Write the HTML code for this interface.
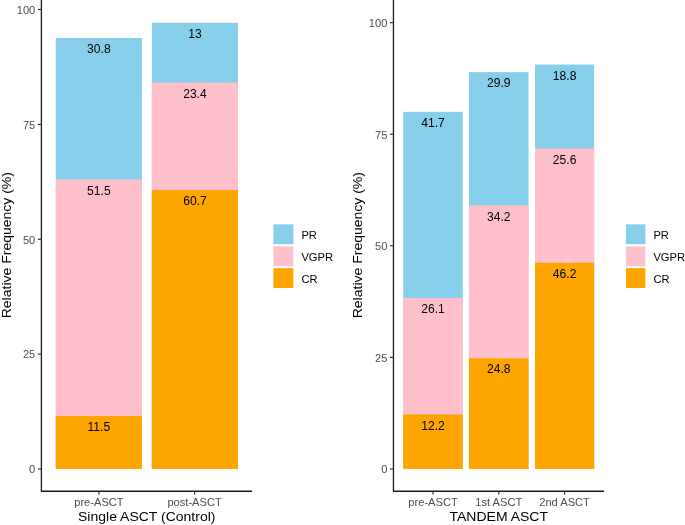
<!DOCTYPE html>
<html><head><meta charset="utf-8"><title>Response rates</title>
<style>
html,body{margin:0;padding:0;background:#fff;}
body{width:685px;height:525px;overflow:hidden;}
svg{display:block;}
text{font-family:"Liberation Sans",Arial,Helvetica,sans-serif;}
.lab{font-size:12.1px;fill:#000;}
.ax{font-size:11.0px;fill:#4d4d4d;}
.lg{font-size:10.8px;fill:#000;}
.tt{font-size:13.6px;fill:#000;}
</style></head><body>
<svg width="685" height="525" viewBox="0 0 685 525">
<rect width="685" height="525" fill="#fff"/>
<rect x="55.80" y="37.99" width="86.10" height="430.96" fill="#87CEEB"/>
<rect x="55.80" y="179.50" width="86.10" height="289.45" fill="#FFC0CB"/>
<rect x="55.80" y="416.11" width="86.10" height="52.84" fill="#FFA500"/>
<text class="lab" transform="translate(98.85,431.26)" text-anchor="middle">11.5</text>
<text class="lab" transform="translate(98.85,194.65)" text-anchor="middle">51.5</text>
<text class="lab" transform="translate(98.85,53.14)" text-anchor="middle">30.8</text>
<rect x="151.85" y="22.82" width="86.15" height="446.13" fill="#87CEEB"/>
<rect x="151.85" y="82.55" width="86.15" height="386.40" fill="#FFC0CB"/>
<rect x="151.85" y="190.06" width="86.15" height="278.89" fill="#FFA500"/>
<text class="lab" transform="translate(194.93,205.21)" text-anchor="middle">60.7</text>
<text class="lab" transform="translate(194.93,97.70)" text-anchor="middle">23.4</text>
<text class="lab" transform="translate(194.93,37.97)" text-anchor="middle">13</text>
<path d="M41.40 0V491.25H252.10" fill="none" stroke="#1a1a1a" stroke-width="1.3" stroke-linejoin="round"/>
<line x1="37.90" y1="468.95" x2="41.50" y2="468.95" stroke="#333" stroke-width="1.2"/>
<text class="ax" transform="translate(35.30,473.30) scale(1.012,1)" text-anchor="end">0</text>
<line x1="37.90" y1="354.09" x2="41.50" y2="354.09" stroke="#333" stroke-width="1.2"/>
<text class="ax" transform="translate(35.30,358.44) scale(1.012,1)" text-anchor="end">25</text>
<line x1="37.90" y1="239.22" x2="41.50" y2="239.22" stroke="#333" stroke-width="1.2"/>
<text class="ax" transform="translate(35.30,243.57) scale(1.012,1)" text-anchor="end">50</text>
<line x1="37.90" y1="124.36" x2="41.50" y2="124.36" stroke="#333" stroke-width="1.2"/>
<text class="ax" transform="translate(35.30,128.71) scale(1.012,1)" text-anchor="end">75</text>
<line x1="37.90" y1="9.50" x2="41.50" y2="9.50" stroke="#333" stroke-width="1.2"/>
<text class="ax" transform="translate(35.30,13.85) scale(1.012,1)" text-anchor="end">100</text>
<line x1="98.91" y1="491.00" x2="98.91" y2="494.60" stroke="#333" stroke-width="1.2"/>
<text class="ax" transform="translate(98.91,506.00) scale(1.012,1)" text-anchor="middle">pre-ASCT</text>
<line x1="194.59" y1="491.00" x2="194.59" y2="494.60" stroke="#333" stroke-width="1.2"/>
<text class="ax" transform="translate(194.59,506.00) scale(1.012,1)" text-anchor="middle">post-ASCT</text>
<text class="tt" transform="translate(146.75,521.35) scale(1.03,1)" text-anchor="middle">Single ASCT (Control)</text>
<text class="tt" transform="translate(10.60,245.15) rotate(-90) scale(1.03,1)" text-anchor="middle">Relative Frequency (%)</text>
<rect x="273.40" y="224.35" width="20.0" height="19.85" fill="#87CEEB"/>
<text class="lg" transform="translate(301.40,238.80) scale(1.035,1)">PR</text>
<rect x="273.40" y="246.25" width="20.0" height="19.85" fill="#FFC0CB"/>
<text class="lg" transform="translate(301.40,260.70) scale(1.035,1)">VGPR</text>
<rect x="273.40" y="268.15" width="20.0" height="19.85" fill="#FFA500"/>
<text class="lg" transform="translate(301.40,282.60) scale(1.035,1)">CR</text>
<rect x="403.20" y="111.85" width="59.50" height="357.10" fill="#87CEEB"/>
<rect x="403.20" y="297.99" width="59.50" height="170.96" fill="#FFC0CB"/>
<rect x="403.20" y="414.49" width="59.50" height="54.46" fill="#FFA500"/>
<text class="lab" transform="translate(432.95,429.64)" text-anchor="middle">12.2</text>
<text class="lab" transform="translate(432.95,313.14)" text-anchor="middle">26.1</text>
<text class="lab" transform="translate(432.95,127.00)" text-anchor="middle">41.7</text>
<rect x="468.95" y="72.13" width="59.55" height="396.82" fill="#87CEEB"/>
<rect x="468.95" y="205.59" width="59.55" height="263.36" fill="#FFC0CB"/>
<rect x="468.95" y="358.25" width="59.55" height="110.70" fill="#FFA500"/>
<text class="lab" transform="translate(498.73,373.40)" text-anchor="middle">24.8</text>
<text class="lab" transform="translate(498.73,220.74)" text-anchor="middle">34.2</text>
<text class="lab" transform="translate(498.73,87.28)" text-anchor="middle">29.9</text>
<rect x="535.00" y="64.54" width="59.15" height="404.41" fill="#87CEEB"/>
<rect x="535.00" y="148.46" width="59.15" height="320.49" fill="#FFC0CB"/>
<rect x="535.00" y="262.73" width="59.15" height="206.22" fill="#FFA500"/>
<text class="lab" transform="translate(564.58,277.88)" text-anchor="middle">46.2</text>
<text class="lab" transform="translate(564.58,163.61)" text-anchor="middle">25.6</text>
<text class="lab" transform="translate(564.58,79.69)" text-anchor="middle">18.8</text>
<path d="M393.45 0V491.25H604.10" fill="none" stroke="#1a1a1a" stroke-width="1.3" stroke-linejoin="round"/>
<line x1="389.95" y1="468.95" x2="393.55" y2="468.95" stroke="#333" stroke-width="1.2"/>
<text class="ax" transform="translate(387.35,473.30) scale(1.012,1)" text-anchor="end">0</text>
<line x1="389.95" y1="357.36" x2="393.55" y2="357.36" stroke="#333" stroke-width="1.2"/>
<text class="ax" transform="translate(387.35,361.71) scale(1.012,1)" text-anchor="end">25</text>
<line x1="389.95" y1="245.76" x2="393.55" y2="245.76" stroke="#333" stroke-width="1.2"/>
<text class="ax" transform="translate(387.35,250.11) scale(1.012,1)" text-anchor="end">50</text>
<line x1="389.95" y1="134.17" x2="393.55" y2="134.17" stroke="#333" stroke-width="1.2"/>
<text class="ax" transform="translate(387.35,138.52) scale(1.012,1)" text-anchor="end">75</text>
<line x1="389.95" y1="22.58" x2="393.55" y2="22.58" stroke="#333" stroke-width="1.2"/>
<text class="ax" transform="translate(387.35,26.93) scale(1.012,1)" text-anchor="end">100</text>
<line x1="433.01" y1="491.00" x2="433.01" y2="494.60" stroke="#333" stroke-width="1.2"/>
<text class="ax" transform="translate(433.01,506.00) scale(1.012,1)" text-anchor="middle">pre-ASCT</text>
<line x1="498.77" y1="491.00" x2="498.77" y2="494.60" stroke="#333" stroke-width="1.2"/>
<text class="ax" transform="translate(498.77,506.00) scale(1.012,1)" text-anchor="middle">1st ASCT</text>
<line x1="564.54" y1="491.00" x2="564.54" y2="494.60" stroke="#333" stroke-width="1.2"/>
<text class="ax" transform="translate(564.54,506.00) scale(1.012,1)" text-anchor="middle">2nd ASCT</text>
<text class="tt" transform="translate(498.77,521.35) scale(1.03,1)" text-anchor="middle">TANDEM ASCT</text>
<text class="tt" transform="translate(362.05,245.15) rotate(-90) scale(1.03,1)" text-anchor="middle">Relative Frequency (%)</text>
<rect x="625.90" y="224.35" width="19.5" height="19.85" fill="#87CEEB"/>
<text class="lg" transform="translate(653.40,238.80) scale(1.035,1)">PR</text>
<rect x="625.90" y="246.25" width="19.5" height="19.85" fill="#FFC0CB"/>
<text class="lg" transform="translate(653.40,260.70) scale(1.035,1)">VGPR</text>
<rect x="625.90" y="268.15" width="19.5" height="19.85" fill="#FFA500"/>
<text class="lg" transform="translate(653.40,282.60) scale(1.035,1)">CR</text>
</svg>
</body></html>
